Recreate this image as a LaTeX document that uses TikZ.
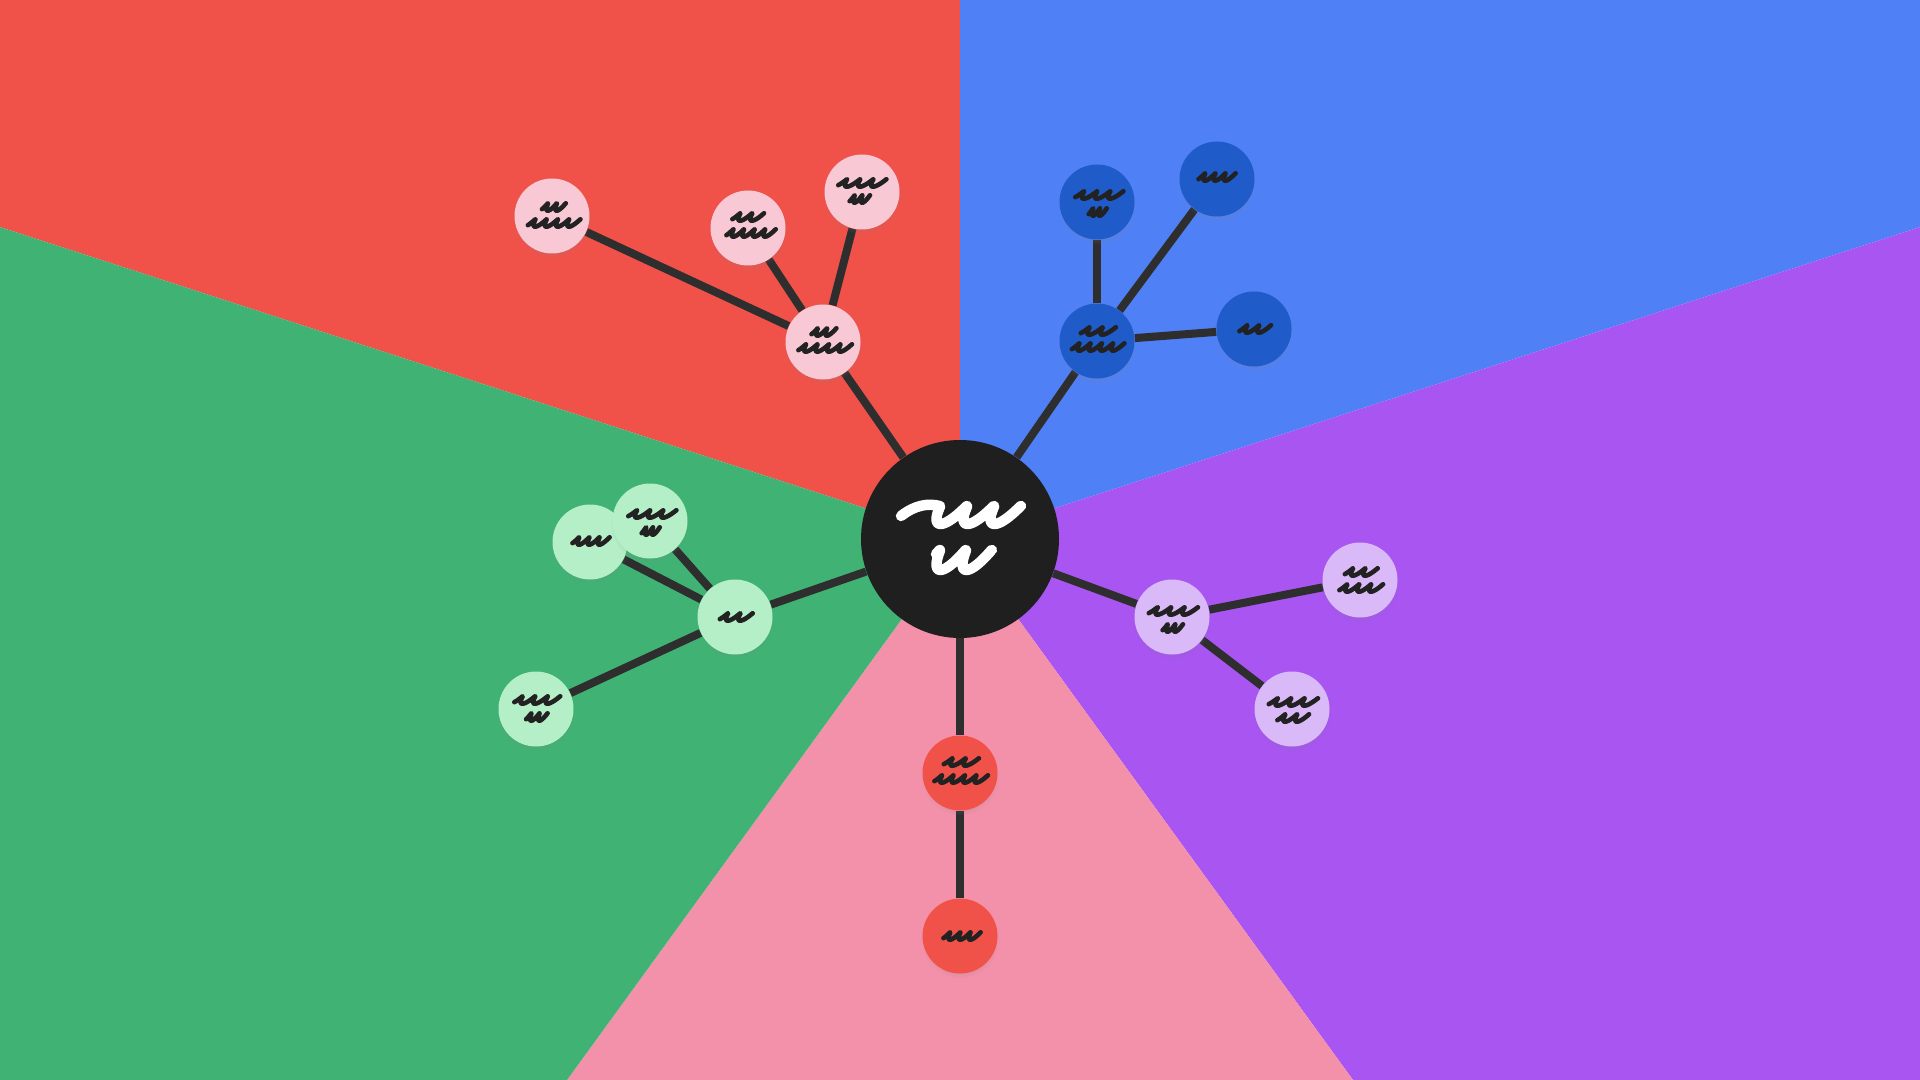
\documentclass[tikz,border=0pt]{standalone}
\usetikzlibrary{shadows}
\pgfdeclarelayer{bg}
\pgfsetlayers{bg,main}
\definecolor{bgred}{HTML}{F0524A}
\definecolor{bgblue}{HTML}{5080F5}
\definecolor{bgpurple}{HTML}{A855F1}
\definecolor{bgpink}{HTML}{F491AA}
\definecolor{bggreen}{HTML}{40B374}
\definecolor{ndpink}{HTML}{F8C8D5}
\definecolor{ndblue}{HTML}{1F5BC9}
\definecolor{ndlav}{HTML}{D9B9F8}
\definecolor{ndred}{HTML}{F0524A}
\definecolor{ndgreen}{HTML}{B4EFC7}
\definecolor{edgec}{HTML}{2E2E2E}
\definecolor{inkc}{HTML}{222222}
\definecolor{centerc}{HTML}{1F1F1F}
\tikzset{
  leaf/.style={circle, inner sep=0pt, minimum size=37.5pt,
    circular drop shadow={shadow xshift=0pt, shadow yshift=-1.5pt, shadow scale=1.05, opacity=0.18}},
  hubnode/.style={circle, inner sep=0pt, minimum size=99pt, fill=centerc},
  edge/.style={draw=edgec, line width=4pt},
  squig/.style={draw=inkc, line width=2.3pt, line cap=round, line join=round},
  bigsquig/.style={draw=white, line width=5.2pt, line cap=round, line join=round},
}
% #1 cx, #2 cy, #3 humps, #4 width (px)
\newcommand\mmsq[4]{%
  \pgfmathsetmacro\sqW{#4-4}%
  \pgfmathsetmacro\sqw{\sqW/(#3+0.35)}%
  \pgfmathsetmacro\sqx{#1-\sqW/2}%
  \pgfmathsetmacro\sqe{#3+0.5}%
  \draw[squig] plot[domain=0.15:\sqe, samples=90, smooth]
    ({\sqx + \sqw*(\x - 0.15 + 0.12*sin(360*\x)) - 0.26*\sqw*cos(360*\x)}, {#2 + 3.7*cos(360*\x)});%
}
\begin{document}
\begin{tikzpicture}[x=0.5pt, y=-0.5pt]
\useasboundingbox (0,0) rectangle (1920,1080);

\begin{pgfonlayer}{bg}
  \begin{scope}
    \clip (0,0) rectangle (1920,1080);
    \fill[bgred]    (960,539) -- (960,-2461) -- (-1893,-388) -- cycle;
    \fill[bgblue]   (960,539) -- (3813,-388) -- (960,-2461) -- cycle;
    \fill[bgpurple] (960,539) -- (2723,2966) -- (3813,-388) -- cycle;
    \fill[bgpink]   (960,539) -- (-803,2966) -- (2723,2966) -- cycle;
    \fill[bggreen]  (960,539) -- (-1893,-388) -- (-803,2966) -- cycle;
  \end{scope}
\end{pgfonlayer}

% center
\node[hubnode] (c) at (960,539) {};

% pink group (top-left)
\node[leaf, fill=ndpink] (ph) at (823,342) {};
\node[leaf, fill=ndpink] (pA) at (552,216) {};
\node[leaf, fill=ndpink] (pB) at (748,228) {};
\node[leaf, fill=ndpink] (pC) at (862,192) {};

% blue group (top-right)
\node[leaf, fill=ndblue] (bh) at (1097,341) {};
\node[leaf, fill=ndblue] (bA) at (1097,202) {};
\node[leaf, fill=ndblue] (bB) at (1217,179) {};
\node[leaf, fill=ndblue] (bC) at (1254,329) {};

% lavender group (right)
\node[leaf, fill=ndlav] (uh) at (1172,617) {};
\node[leaf, fill=ndlav] (uA) at (1360,580) {};
\node[leaf, fill=ndlav] (uB) at (1292,709) {};

% red group (bottom)
\node[leaf, fill=ndred] (r1) at (960,773) {};
\node[leaf, fill=ndred] (r2) at (960,936) {};

% green group (left)
\node[leaf, fill=ndgreen] (gh) at (735,617) {};
\node[leaf, fill=ndgreen] (gA) at (590,542) {};
\node[leaf, fill=ndgreen] (gB) at (650,521) {};
\node[leaf, fill=ndgreen] (gC) at (536,709) {};

\begin{pgfonlayer}{bg}
  \draw[edge] (c) -- (ph);
  \draw[edge] (ph) -- (pA);
  \draw[edge] (ph) -- (pB);
  \draw[edge] (ph) -- (pC);
  \draw[edge] (c) -- (bh);
  \draw[edge] (bh) -- (bA);
  \draw[edge] (bh) -- (bB);
  \draw[edge] (bh) -- (bC);
  \draw[edge] (c) -- (uh);
  \draw[edge] (uh) -- (uA);
  \draw[edge] (uh) -- (uB);
  \draw[edge] (c) -- (r1);
  \draw[edge] (r1) -- (r2);
  \draw[edge] (c) -- (gh);
  \draw[edge] (gh) -- (gA);
  \draw[edge] (gh) -- (gB);
  \draw[edge] (gh) -- (gC);
\end{pgfonlayer}

% center scribble
\draw[bigsquig] (901,516) .. controls (915,505) and (928,503) .. (940,506)
  -- plot[domain=0.5:3.5, samples=120, smooth]
  ({940 + 27*(\x - 0.5 + 0.12*sin(360*\x)) - 0.24*27*(cos(360*\x)+1)}, {515 + 9*cos(360*\x)});
\draw[bigsquig] plot[domain=0.35:2.5, samples=90, smooth]
  ({936 + 26*(\x - 0.35 + 0.12*sin(360*\x)) - 0.24*26*(cos(360*\x)+1)}, {560 + 10*cos(360*\x)});

% leaf scribbles
\mmsq{553}{207}{2}{25}\mmsq{553}{223}{4}{53}
\mmsq{747}{217}{2}{32}\mmsq{750}{233}{4}{50}
\mmsq{861}{183}{3}{48}\mmsq{859}{199}{2}{22}
\mmsq{823}{332}{2}{26}\mmsq{824}{348}{4}{54}

\mmsq{1098}{195}{3}{48}\mmsq{1097}{212}{2}{20}
\mmsq{1216}{177}{3}{38}
\mmsq{1097}{331}{2}{35}\mmsq{1097}{347}{4}{53}
\mmsq{1254}{329}{2}{32}

\mmsq{1172}{611}{3}{49}\mmsq{1172}{628}{2}{22}
\mmsq{1360}{572}{2}{33}\mmsq{1360}{588}{3}{44}
\mmsq{1292}{702}{3}{49}\mmsq{1292}{718}{2}{32}

\mmsq{960}{762}{2}{35}\mmsq{960}{779}{4}{54}
\mmsq{961}{936}{3}{38}

\mmsq{590}{541}{3}{38}
\mmsq{651}{514}{3}{48}\mmsq{650}{531}{2}{20}
\mmsq{735}{617}{2}{33}
\mmsq{536}{700}{3}{46}\mmsq{536}{717}{2}{23}
\end{tikzpicture}
\end{document}
